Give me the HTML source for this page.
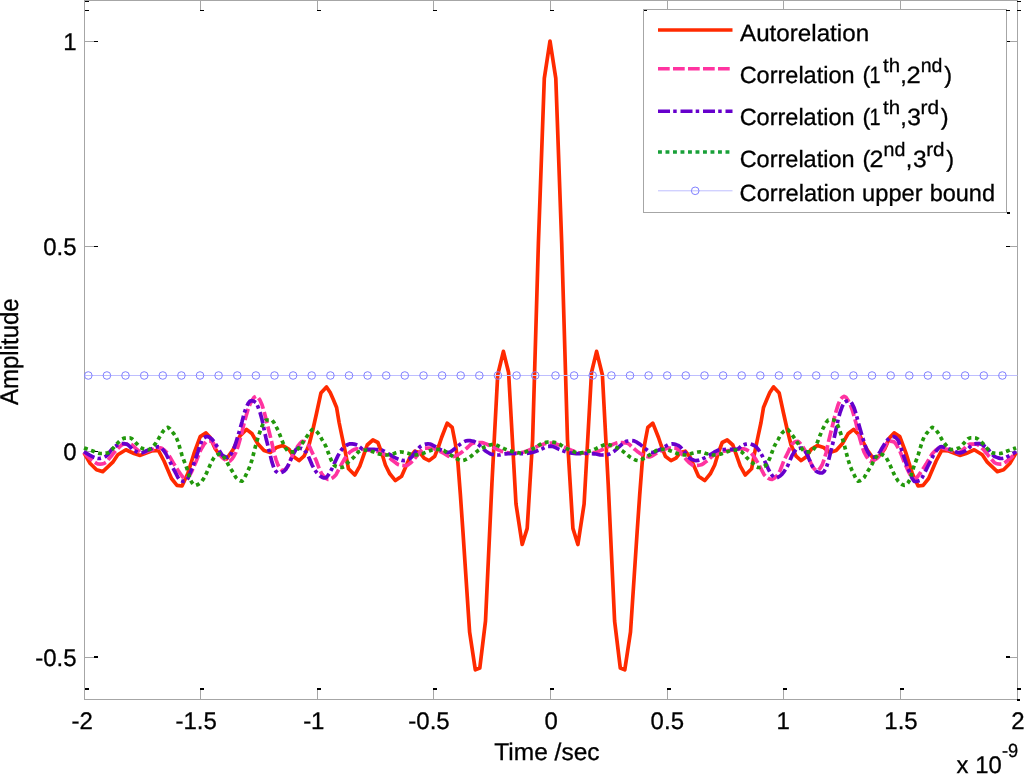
<!DOCTYPE html>
<html><head><meta charset="utf-8"><title>Correlation plot</title>
<style>html,body{margin:0;padding:0;background:#fff;overflow:hidden}body{width:1024px;height:774px;position:relative}</style></head>
<body>
<svg width="1024" height="774" viewBox="0 0 1024 774" style="display:block;position:absolute;left:0;top:0" font-family="'Liberation Sans', Arial, Helvetica, sans-serif" font-size="24" fill="#000">
<style>text{stroke:#000;stroke-width:0.3px;text-rendering:geometricPrecision}</style>
<rect width="1024" height="774" fill="#fff"/>
<g stroke="#a6a6a6" stroke-width="1" fill="none" shape-rendering="crispEdges">
<rect x="84.5" y="0.5" width="932.9" height="699.0"/>
<line x1="200.0" y1="699.5" x2="200.0" y2="689.5"/>
<line x1="200.0" y1="0.5" x2="200.0" y2="10.5"/>
<line x1="317.3" y1="699.5" x2="317.3" y2="689.5"/>
<line x1="317.3" y1="0.5" x2="317.3" y2="10.5"/>
<line x1="433.0" y1="699.5" x2="433.0" y2="689.5"/>
<line x1="433.0" y1="0.5" x2="433.0" y2="10.5"/>
<line x1="550.2" y1="699.5" x2="550.2" y2="689.5"/>
<line x1="550.2" y1="0.5" x2="550.2" y2="10.5"/>
<line x1="667.3" y1="699.5" x2="667.3" y2="689.5"/>
<line x1="667.3" y1="0.5" x2="667.3" y2="10.5"/>
<line x1="783.0" y1="699.5" x2="783.0" y2="689.5"/>
<line x1="783.0" y1="0.5" x2="783.0" y2="10.5"/>
<line x1="900.2" y1="699.5" x2="900.2" y2="689.5"/>
<line x1="900.2" y1="0.5" x2="900.2" y2="10.5"/>
<line x1="84.5" y1="41.3" x2="94.5" y2="41.3"/>
<line x1="1017.4" y1="41.3" x2="1007.4" y2="41.3"/>
<line x1="84.5" y1="246.5" x2="94.5" y2="246.5"/>
<line x1="1017.4" y1="246.5" x2="1007.4" y2="246.5"/>
<line x1="84.5" y1="451.7" x2="94.5" y2="451.7"/>
<line x1="1017.4" y1="451.7" x2="1007.4" y2="451.7"/>
<line x1="84.5" y1="657.1" x2="94.5" y2="657.1"/>
<line x1="1017.4" y1="657.1" x2="1007.4" y2="657.1"/>
</g>
<g fill="#000" shape-rendering="crispEdges">
<rect x="199.5" y="688.4" width="4" height="1.3"/>
<rect x="199.5" y="9.7" width="4" height="1.3"/>
<rect x="316.8" y="688.4" width="4" height="1.3"/>
<rect x="316.8" y="9.7" width="4" height="1.3"/>
<rect x="432.5" y="688.4" width="4" height="1.3"/>
<rect x="432.5" y="9.7" width="4" height="1.3"/>
<rect x="549.7" y="688.4" width="4" height="1.3"/>
<rect x="549.7" y="9.7" width="4" height="1.3"/>
<rect x="666.8" y="688.4" width="4" height="1.3"/>
<rect x="666.8" y="9.7" width="4" height="1.3"/>
<rect x="782.5" y="688.4" width="4" height="1.3"/>
<rect x="782.5" y="9.7" width="4" height="1.3"/>
<rect x="899.7" y="688.4" width="4" height="1.3"/>
<rect x="899.7" y="9.7" width="4" height="1.3"/>
<rect x="94.0" y="40.5" width="3.6" height="1.3"/>
<rect x="1006.4" y="40.5" width="3.6" height="1.3"/>
<rect x="94.0" y="245.7" width="3.6" height="1.3"/>
<rect x="1006.4" y="245.7" width="3.6" height="1.3"/>
<rect x="94.0" y="450.9" width="3.6" height="1.3"/>
<rect x="1006.4" y="450.9" width="3.6" height="1.3"/>
<rect x="94.0" y="656.3" width="3.6" height="1.3"/>
<rect x="1006.4" y="656.3" width="3.6" height="1.3"/>
<rect x="84.5" y="688.4" width="4" height="1.3"/>
<rect x="84.5" y="9.7" width="4" height="1.3"/>
<rect x="84.5" y="0.5" width="4" height="1.4"/>
<rect x="1016.9" y="688.4" width="4" height="1.3"/>
<rect x="1016.9" y="9.7" width="4" height="1.3"/>
<rect x="1016.9" y="0.5" width="4" height="1.4"/>
<rect x="1016.9" y="699.2" width="3.5" height="1.3"/>
</g>
<g fill="none" stroke-width="3.7" stroke-linejoin="round">
<path d="M84.0,452.9 L90.2,463.5 L96.5,469.8 L102.8,471.6 L112.8,462.2 L117.8,454.8 L125.9,449.8 L134.0,453.5 L140.2,455.4 L151.5,451.0 L158.4,450.4 L164.0,461.0 L171.5,478.5 L177.0,485.4 L182.0,486.0 L187.8,473.5 L194.0,453.5 L200.2,436.6 L206.0,432.9 L210.2,437.5 L215.2,448.8 L219.6,455.0 L226.5,458.8 L232.8,450.0 L240.2,435.6 L246.5,429.4 L252.1,433.8 L257.8,443.8 L264.0,450.6 L270.2,452.5 L276.5,447.5 L282.8,445.6 L289.0,449.4 L294.0,456.9 L299.0,460.6 L304.0,456.2 L309.0,445.0 L312.8,430.0 L316.5,413.5 L320.9,393.1 L326.5,386.9 L330.2,392.5 L333.5,400.0 L336.6,407.5 L339.1,422.5 L342.2,437.5 L345.4,452.5 L348.5,468.8 L354.8,475.0 L359.8,466.2 L364.1,453.8 L367.2,445.0 L372.9,440.0 L377.9,442.5 L381.6,452.5 L385.4,465.0 L389.8,473.8 L395.4,480.6 L401.6,476.2 L406.0,466.2 L409.8,457.5 L414.8,451.2 L419.8,452.5 L424.1,458.1 L429.1,460.6 L434.8,456.2 L439.1,445.0 L441.6,437.5 L447.2,423.1 L452.2,427.5 L455.4,443.8 L457.9,462.5 L460.4,495.0 L462.9,531.0 L469.6,632.0 L475.3,669.8 L479.8,668.0 L485.5,621.0 L491.9,484.0 L497.7,375.0 L503.4,351.4 L508.6,372.5 L516.0,504.0 L522.2,544.5 L527.2,528.4 L532.6,440.0 L538.4,243.0 L544.3,78.4 L550.0,41.0 L555.8,78.4 L561.7,243.0 L567.5,440.0 L572.9,528.4 L577.9,544.5 L584.1,504.0 L591.5,372.5 L596.6,351.4 L602.4,375.0 L608.2,484.0 L614.6,621.0 L620.3,668.0 L624.8,669.8 L630.5,632.0 L637.2,531.0 L639.7,495.0 L642.2,462.5 L644.7,443.8 L647.8,427.5 L652.8,423.1 L658.5,437.5 L661.0,445.0 L665.3,456.2 L671.0,460.6 L676.0,458.1 L680.3,452.5 L685.3,451.2 L690.3,457.5 L694.1,466.2 L698.5,476.2 L704.7,480.6 L710.3,473.8 L714.7,465.0 L718.5,452.5 L722.2,442.5 L727.2,440.0 L732.8,445.0 L736.0,453.8 L740.3,466.2 L745.3,475.0 L751.6,468.8 L754.7,452.5 L757.8,437.5 L761.0,422.5 L763.5,407.5 L766.6,400.0 L769.8,392.5 L773.6,386.9 L779.2,393.1 L783.6,413.5 L787.3,430.0 L791.1,445.0 L796.1,456.2 L801.1,460.6 L806.1,456.9 L811.1,449.4 L817.3,445.6 L823.6,447.5 L829.8,452.5 L836.1,450.6 L842.3,443.8 L848.0,433.8 L853.6,429.4 L859.8,435.6 L867.3,450.0 L873.6,458.8 L880.5,455.0 L884.8,448.8 L889.8,437.5 L894.1,432.9 L899.8,436.6 L906.1,453.5 L912.3,473.5 L918.1,486.0 L923.1,485.4 L928.6,478.5 L936.1,461.0 L941.7,450.4 L948.6,451.0 L959.8,455.4 L966.1,453.5 L974.2,449.8 L982.3,454.8 L987.3,462.2 L997.3,471.6 L1003.6,469.8 L1009.8,463.5 L1016.1,452.9" stroke="#ff2a00"/>
<path d="M84.0,452.2 L86.0,454.6 L88.0,456.7 L90.0,458.6 L92.0,460.1 L94.0,461.7 L96.0,463.1 L98.0,464.0 L100.0,464.1 L102.0,463.9 L104.0,463.5 L106.0,462.3 L108.0,460.0 L110.0,457.5 L112.0,455.2 L114.0,452.7 L116.0,450.3 L118.0,448.3 L120.0,446.4 L122.0,444.8 L124.0,444.1 L126.0,444.1 L128.0,444.1 L130.0,444.1 L132.0,444.8 L134.0,446.6 L136.0,448.7 L138.0,450.5 L140.0,452.3 L142.0,452.9 L144.0,452.5 L146.0,451.8 L148.0,451.0 L150.0,450.2 L152.0,449.6 L154.0,449.1 L156.0,448.5 L158.0,448.1 L160.0,447.9 L162.0,448.4 L164.0,449.9 L166.0,451.8 L168.0,454.0 L170.0,457.2 L172.0,460.7 L174.0,464.1 L176.0,467.2 L178.0,470.3 L180.0,473.2 L182.0,476.0 L184.0,478.5 L186.0,478.9 L188.0,477.2 L190.0,474.6 L192.0,470.8 L194.0,466.3 L196.0,461.8 L198.0,456.6 L200.0,451.5 L202.0,447.7 L204.0,444.3 L206.0,441.9 L208.0,441.4 L210.0,441.2 L212.0,441.4 L214.0,444.4 L216.0,448.6 L218.0,451.8 L220.0,454.9 L222.0,457.4 L224.0,459.0 L226.0,460.3 L228.0,461.1 L230.0,461.0 L232.0,459.0 L234.0,455.9 L236.0,452.2 L238.0,446.5 L240.0,439.6 L242.0,431.9 L244.0,423.5 L246.0,416.2 L248.0,409.5 L250.0,404.2 L252.0,400.5 L254.0,397.4 L256.0,396.3 L258.0,397.5 L260.0,400.2 L262.0,404.7 L264.0,411.2 L266.0,419.0 L268.0,427.2 L270.0,435.1 L272.0,443.5 L274.0,452.7 L276.0,459.6 L278.0,465.1 L280.0,468.3 L282.0,470.4 L284.0,470.3 L286.0,468.7 L288.0,466.1 L290.0,461.1 L292.0,456.5 L294.0,452.5 L296.0,448.8 L298.0,445.9 L300.0,443.3 L302.0,441.4 L304.0,441.5 L306.0,442.5 L308.0,444.0 L310.0,447.5 L312.0,452.2 L314.0,456.1 L316.0,460.0 L318.0,465.4 L320.0,470.5 L322.0,474.3 L324.0,476.7 L326.0,478.4 L328.0,479.4 L330.0,479.2 L332.0,478.2 L334.0,476.8 L336.0,474.7 L338.0,470.9 L340.0,467.1 L342.0,463.4 L344.0,459.9 L346.0,456.9 L348.0,454.2 L350.0,452.0 L352.0,450.7 L354.0,449.6 L356.0,448.9 L358.0,448.8 L360.0,449.0 L362.0,449.3 L364.0,449.7 L366.0,450.0 L368.0,450.2 L370.0,450.5 L372.0,450.7 L374.0,450.9 L376.0,451.2 L378.0,451.7 L380.0,452.3 L382.0,453.1 L384.0,454.0 L386.0,455.0 L388.0,456.4 L390.0,458.2 L392.0,460.1 L394.0,461.6 L396.0,463.1 L398.0,464.4 L400.0,465.0 L402.0,465.3 L404.0,465.5 L406.0,465.6 L408.0,464.9 L410.0,463.3 L412.0,461.5 L414.0,459.4 L416.0,456.8 L418.0,454.3 L420.0,452.0 L422.0,449.7 L424.0,448.2 L426.0,448.1 L428.0,448.1 L430.0,448.1 L432.0,448.2 L434.0,448.7 L436.0,449.5 L438.0,450.3 L440.0,451.3 L442.0,452.4 L444.0,453.5 L446.0,454.7 L448.0,456.0 L450.0,456.8 L452.0,456.8 L454.0,456.4 L456.0,455.6 L458.0,454.6 L460.0,453.5 L462.0,452.1 L464.0,450.4 L466.0,448.8 L468.0,447.0 L470.0,445.1 L472.0,443.6 L474.0,443.0 L476.0,442.8 L478.0,442.6 L480.0,442.5 L482.0,442.6 L484.0,443.1 L486.0,443.9 L488.0,444.8 L490.0,445.7 L492.0,446.7 L494.0,447.8 L496.0,448.8 L498.0,449.7 L500.0,450.6 L502.0,451.5 L504.0,452.0 L506.0,452.5 L508.0,452.8 L510.0,453.1 L512.0,453.1 L514.0,453.1 L516.0,453.1 L518.0,453.1 L520.0,453.0 L522.0,452.5 L524.0,451.9 L526.0,451.2 L528.0,450.5 L530.0,449.7 L532.0,448.8 L534.0,447.9 L536.0,447.0 L538.0,446.1 L540.0,445.3 L542.0,444.7 L544.0,444.1 L546.0,443.5 L548.0,443.2 L550.0,443.0 L550.0,443.0 L550.1,443.0 L552.1,443.2 L554.1,443.5 L556.1,444.1 L558.1,444.7 L560.1,445.3 L562.1,446.1 L564.1,447.0 L566.1,447.9 L568.1,448.8 L570.1,449.7 L572.1,450.5 L574.1,451.2 L576.1,451.9 L578.1,452.5 L580.1,453.0 L582.1,453.1 L584.1,453.1 L586.1,453.1 L588.1,453.1 L590.1,453.1 L592.1,452.8 L594.1,452.5 L596.1,452.0 L598.1,451.5 L600.1,450.6 L602.1,449.7 L604.1,448.8 L606.1,447.8 L608.1,446.7 L610.1,445.7 L612.1,444.8 L614.1,443.9 L616.1,443.1 L618.1,442.6 L620.1,442.5 L622.1,442.6 L624.1,442.8 L626.1,443.0 L628.1,443.6 L630.1,445.1 L632.1,447.0 L634.1,448.8 L636.1,450.4 L638.1,452.1 L640.1,453.5 L642.1,454.6 L644.1,455.6 L646.1,456.4 L648.1,456.8 L650.1,456.8 L652.1,456.0 L654.1,454.7 L656.1,453.5 L658.1,452.4 L660.1,451.3 L662.1,450.3 L664.1,449.5 L666.1,448.7 L668.1,448.2 L670.1,448.1 L672.1,448.1 L674.1,448.1 L676.1,448.2 L678.1,449.7 L680.1,452.0 L682.1,454.3 L684.1,456.8 L686.1,459.4 L688.1,461.5 L690.1,463.3 L692.1,464.9 L694.1,465.6 L696.1,465.5 L698.1,465.3 L700.1,465.0 L702.1,464.4 L704.1,463.1 L706.1,461.6 L708.1,460.1 L710.1,458.2 L712.1,456.4 L714.1,455.0 L716.1,454.0 L718.1,453.1 L720.1,452.3 L722.1,451.7 L724.1,451.2 L726.1,450.9 L728.1,450.7 L730.1,450.5 L732.1,450.2 L734.1,450.0 L736.1,449.7 L738.1,449.3 L740.1,449.0 L742.1,448.8 L744.1,448.9 L746.1,449.6 L748.1,450.7 L750.1,452.0 L752.1,454.2 L754.1,456.9 L756.1,459.9 L758.1,463.4 L760.1,467.1 L762.1,470.9 L764.1,474.7 L766.1,476.8 L768.1,478.2 L770.1,479.2 L772.1,479.4 L774.1,478.4 L776.1,476.7 L778.1,474.3 L780.1,470.5 L782.1,465.4 L784.1,460.0 L786.1,456.1 L788.1,452.2 L790.1,447.5 L792.1,444.0 L794.1,442.5 L796.1,441.5 L798.1,441.4 L800.1,443.3 L802.1,445.9 L804.1,448.8 L806.1,452.5 L808.1,456.5 L810.1,461.1 L812.1,466.1 L814.1,468.7 L816.1,470.3 L818.1,470.4 L820.1,468.3 L822.1,465.1 L824.1,459.6 L826.1,452.7 L828.1,443.5 L830.1,435.1 L832.1,427.2 L834.1,419.0 L836.1,411.2 L838.1,404.7 L840.1,400.2 L842.1,397.5 L844.1,396.3 L846.1,397.4 L848.1,400.5 L850.1,404.2 L852.1,409.5 L854.1,416.2 L856.1,423.5 L858.1,431.9 L860.1,439.6 L862.1,446.5 L864.1,452.2 L866.1,455.9 L868.1,459.0 L870.1,461.0 L872.1,461.1 L874.1,460.3 L876.1,459.0 L878.1,457.4 L880.1,454.9 L882.1,451.8 L884.1,448.6 L886.1,444.4 L888.1,441.4 L890.1,441.2 L892.1,441.4 L894.1,441.9 L896.1,444.3 L898.1,447.7 L900.1,451.5 L902.1,456.6 L904.1,461.8 L906.1,466.3 L908.1,470.8 L910.1,474.6 L912.1,477.2 L914.1,478.9 L916.1,478.5 L918.1,476.0 L920.1,473.2 L922.1,470.3 L924.1,467.2 L926.1,464.1 L928.1,460.7 L930.1,457.2 L932.1,454.0 L934.1,451.8 L936.1,449.9 L938.1,448.4 L940.1,447.9 L942.1,448.1 L944.1,448.5 L946.1,449.1 L948.1,449.6 L950.1,450.2 L952.1,451.0 L954.1,451.8 L956.1,452.5 L958.1,452.9 L960.1,452.3 L962.1,450.5 L964.1,448.7 L966.1,446.6 L968.1,444.8 L970.1,444.1 L972.1,444.1 L974.1,444.1 L976.1,444.1 L978.1,444.8 L980.1,446.4 L982.1,448.3 L984.1,450.3 L986.1,452.7 L988.1,455.2 L990.1,457.5 L992.1,460.0 L994.1,462.3 L996.1,463.5 L998.1,463.9 L1000.1,464.1 L1002.1,464.0 L1004.1,463.1 L1006.1,461.7 L1008.1,460.1 L1010.1,458.6 L1012.1,456.7 L1014.1,454.6 L1016.1,452.2" stroke="#ff33a0" stroke-dasharray="11.7 3.3"/>
<path d="M84.0,451.6 L86.0,453.0 L88.0,454.2 L90.0,455.3 L92.0,456.3 L94.0,457.3 L96.0,458.1 L98.0,458.5 L100.0,458.4 L102.0,457.9 L104.0,457.1 L106.0,456.2 L108.0,454.3 L110.0,451.7 L112.0,449.1 L114.0,447.2 L116.0,445.9 L118.0,444.6 L120.0,443.7 L122.0,443.5 L124.0,443.7 L126.0,444.0 L128.0,444.8 L130.0,446.7 L132.0,448.8 L134.0,450.4 L136.0,451.5 L138.0,452.4 L140.0,452.9 L142.0,452.7 L144.0,452.0 L146.0,451.0 L148.0,450.1 L150.0,449.4 L152.0,448.6 L154.0,447.8 L156.0,447.1 L158.0,446.7 L160.0,446.9 L162.0,448.6 L164.0,451.0 L166.0,454.0 L168.0,457.8 L170.0,461.8 L172.0,465.8 L174.0,469.9 L176.0,473.7 L178.0,477.6 L180.0,480.3 L182.0,481.0 L184.0,481.5 L186.0,481.3 L188.0,478.3 L190.0,473.4 L192.0,468.6 L194.0,463.2 L196.0,457.3 L198.0,451.6 L200.0,445.4 L202.0,440.2 L204.0,437.9 L206.0,436.6 L208.0,436.6 L210.0,437.7 L212.0,439.3 L214.0,441.6 L216.0,444.7 L218.0,447.9 L220.0,451.6 L222.0,454.9 L224.0,456.3 L226.0,457.2 L228.0,457.5 L230.0,455.8 L232.0,452.6 L234.0,448.4 L236.0,442.3 L238.0,435.9 L240.0,429.0 L242.0,421.9 L244.0,414.0 L246.0,407.9 L248.0,403.7 L250.0,401.0 L252.0,400.7 L254.0,401.3 L256.0,402.6 L258.0,406.8 L260.0,412.3 L262.0,419.6 L264.0,429.0 L266.0,438.2 L268.0,446.1 L270.0,454.2 L272.0,462.2 L274.0,468.2 L276.0,471.4 L278.0,472.9 L280.0,473.0 L282.0,472.3 L284.0,471.2 L286.0,469.1 L288.0,465.6 L290.0,461.6 L292.0,456.7 L294.0,452.7 L296.0,449.4 L298.0,448.1 L300.0,448.2 L302.0,448.6 L304.0,449.5 L306.0,452.1 L308.0,455.4 L310.0,460.0 L312.0,464.8 L314.0,468.5 L316.0,471.6 L318.0,474.1 L320.0,476.0 L322.0,477.2 L324.0,478.0 L326.0,477.7 L328.0,475.4 L330.0,472.4 L332.0,468.6 L334.0,464.1 L336.0,459.9 L338.0,455.6 L340.0,452.1 L342.0,449.1 L344.0,446.8 L346.0,445.5 L348.0,444.5 L350.0,443.8 L352.0,443.8 L354.0,444.1 L356.0,444.6 L358.0,445.4 L360.0,447.1 L362.0,448.8 L364.0,449.4 L366.0,449.4 L368.0,449.4 L370.0,449.4 L372.0,449.4 L374.0,449.4 L376.0,449.5 L378.0,449.7 L380.0,449.9 L382.0,450.2 L384.0,451.1 L386.0,452.2 L388.0,453.5 L390.0,454.6 L392.0,455.9 L394.0,457.1 L396.0,458.1 L398.0,459.0 L400.0,459.8 L402.0,460.4 L404.0,460.6 L406.0,460.2 L408.0,459.5 L410.0,458.6 L412.0,456.7 L414.0,453.9 L416.0,451.2 L418.0,448.9 L420.0,446.7 L422.0,445.4 L424.0,444.6 L426.0,444.1 L428.0,443.8 L430.0,444.0 L432.0,444.8 L434.0,445.9 L436.0,446.9 L438.0,448.2 L440.0,449.5 L442.0,450.4 L444.0,451.3 L446.0,452.1 L448.0,452.5 L450.0,452.1 L452.0,450.9 L454.0,449.3 L456.0,447.8 L458.0,446.1 L460.0,444.4 L462.0,443.1 L464.0,441.8 L466.0,440.8 L468.0,440.6 L470.0,440.7 L472.0,441.0 L474.0,441.4 L476.0,442.5 L478.0,444.1 L480.0,445.8 L482.0,447.7 L484.0,449.6 L486.0,451.2 L488.0,452.5 L490.0,453.7 L492.0,454.4 L494.0,454.7 L496.0,454.9 L498.0,455.0 L500.0,454.9 L502.0,454.5 L504.0,454.0 L506.0,453.8 L508.0,453.6 L510.0,453.6 L512.0,453.5 L514.0,453.5 L516.0,453.6 L518.0,453.7 L520.0,453.7 L522.0,453.7 L524.0,453.6 L526.0,453.4 L528.0,453.2 L530.0,452.9 L532.0,452.4 L534.0,451.9 L536.0,451.2 L538.0,450.5 L540.0,449.7 L542.0,448.9 L544.0,447.9 L546.0,446.9 L548.0,446.3 L550.0,446.2 L550.0,446.2 L550.1,446.2 L552.1,446.3 L554.1,446.9 L556.1,447.9 L558.1,448.9 L560.1,449.7 L562.1,450.5 L564.1,451.2 L566.1,451.9 L568.1,452.4 L570.1,452.9 L572.1,453.2 L574.1,453.4 L576.1,453.6 L578.1,453.7 L580.1,453.7 L582.1,453.7 L584.1,453.6 L586.1,453.5 L588.1,453.5 L590.1,453.6 L592.1,453.6 L594.1,453.8 L596.1,454.0 L598.1,454.5 L600.1,454.9 L602.1,455.0 L604.1,454.9 L606.1,454.7 L608.1,454.4 L610.1,453.7 L612.1,452.5 L614.1,451.2 L616.1,449.6 L618.1,447.7 L620.1,445.8 L622.1,444.1 L624.1,442.5 L626.1,441.4 L628.1,441.0 L630.1,440.7 L632.1,440.6 L634.1,440.8 L636.1,441.8 L638.1,443.1 L640.1,444.4 L642.1,446.1 L644.1,447.8 L646.1,449.3 L648.1,450.9 L650.1,452.1 L652.1,452.5 L654.1,452.1 L656.1,451.3 L658.1,450.4 L660.1,449.5 L662.1,448.2 L664.1,446.9 L666.1,445.9 L668.1,444.8 L670.1,444.0 L672.1,443.8 L674.1,444.1 L676.1,444.6 L678.1,445.4 L680.1,446.7 L682.1,448.9 L684.1,451.2 L686.1,453.9 L688.1,456.7 L690.1,458.6 L692.1,459.5 L694.1,460.2 L696.1,460.6 L698.1,460.4 L700.1,459.8 L702.1,459.0 L704.1,458.1 L706.1,457.1 L708.1,455.9 L710.1,454.6 L712.1,453.5 L714.1,452.2 L716.1,451.1 L718.1,450.2 L720.1,449.9 L722.1,449.7 L724.1,449.5 L726.1,449.4 L728.1,449.4 L730.1,449.4 L732.1,449.4 L734.1,449.4 L736.1,449.4 L738.1,448.8 L740.1,447.1 L742.1,445.4 L744.1,444.6 L746.1,444.1 L748.1,443.8 L750.1,443.8 L752.1,444.5 L754.1,445.5 L756.1,446.8 L758.1,449.1 L760.1,452.1 L762.1,455.6 L764.1,459.9 L766.1,464.1 L768.1,468.6 L770.1,472.4 L772.1,475.4 L774.1,477.7 L776.1,478.0 L778.1,477.2 L780.1,476.0 L782.1,474.1 L784.1,471.6 L786.1,468.5 L788.1,464.8 L790.1,460.0 L792.1,455.4 L794.1,452.1 L796.1,449.5 L798.1,448.6 L800.1,448.2 L802.1,448.1 L804.1,449.4 L806.1,452.7 L808.1,456.7 L810.1,461.6 L812.1,465.6 L814.1,469.1 L816.1,471.2 L818.1,472.3 L820.1,473.0 L822.1,472.9 L824.1,471.4 L826.1,468.2 L828.1,462.2 L830.1,454.2 L832.1,446.1 L834.1,438.2 L836.1,429.0 L838.1,419.6 L840.1,412.3 L842.1,406.8 L844.1,402.6 L846.1,401.3 L848.1,400.7 L850.1,401.0 L852.1,403.7 L854.1,407.9 L856.1,414.0 L858.1,421.9 L860.1,429.0 L862.1,435.9 L864.1,442.3 L866.1,448.4 L868.1,452.6 L870.1,455.8 L872.1,457.5 L874.1,457.2 L876.1,456.3 L878.1,454.9 L880.1,451.6 L882.1,447.9 L884.1,444.7 L886.1,441.6 L888.1,439.3 L890.1,437.7 L892.1,436.6 L894.1,436.6 L896.1,437.9 L898.1,440.2 L900.1,445.4 L902.1,451.6 L904.1,457.3 L906.1,463.2 L908.1,468.6 L910.1,473.4 L912.1,478.3 L914.1,481.3 L916.1,481.5 L918.1,481.0 L920.1,480.3 L922.1,477.6 L924.1,473.7 L926.1,469.9 L928.1,465.8 L930.1,461.8 L932.1,457.8 L934.1,454.0 L936.1,451.0 L938.1,448.6 L940.1,446.9 L942.1,446.7 L944.1,447.1 L946.1,447.8 L948.1,448.6 L950.1,449.4 L952.1,450.1 L954.1,451.0 L956.1,452.0 L958.1,452.7 L960.1,452.9 L962.1,452.4 L964.1,451.5 L966.1,450.4 L968.1,448.8 L970.1,446.7 L972.1,444.8 L974.1,444.0 L976.1,443.7 L978.1,443.5 L980.1,443.7 L982.1,444.6 L984.1,445.9 L986.1,447.2 L988.1,449.1 L990.1,451.7 L992.1,454.3 L994.1,456.2 L996.1,457.1 L998.1,457.9 L1000.1,458.4 L1002.1,458.5 L1004.1,458.1 L1006.1,457.3 L1008.1,456.3 L1010.1,455.3 L1012.1,454.2 L1014.1,453.0 L1016.1,451.6" stroke="#6600cc" stroke-dasharray="12 3.2 3.5 3.8"/>
<path d="M84.0,447.9 L86.0,448.6 L88.0,449.3 L90.0,450.0 L92.0,450.7 L94.0,451.5 L96.0,452.4 L98.0,453.1 L100.0,453.5 L102.0,453.5 L104.0,453.3 L106.0,453.1 L108.0,452.9 L110.0,451.7 L112.0,449.7 L114.0,447.2 L116.0,444.7 L118.0,442.7 L120.0,440.8 L122.0,439.1 L124.0,438.2 L126.0,438.1 L128.0,437.9 L130.0,437.9 L132.0,438.7 L134.0,440.7 L136.0,442.9 L138.0,445.1 L140.0,447.3 L142.0,448.3 L144.0,449.0 L146.0,449.5 L148.0,449.7 L150.0,449.2 L152.0,447.4 L154.0,445.4 L156.0,442.8 L158.0,439.7 L160.0,436.3 L162.0,432.9 L164.0,430.2 L166.0,428.0 L168.0,427.3 L170.0,429.0 L172.0,431.6 L174.0,434.0 L176.0,437.0 L178.0,441.7 L180.0,448.5 L182.0,455.3 L184.0,460.7 L186.0,466.0 L188.0,471.6 L190.0,479.2 L192.0,482.7 L194.0,485.0 L196.0,485.3 L198.0,484.5 L200.0,483.1 L202.0,481.1 L204.0,478.0 L206.0,474.2 L208.0,469.7 L210.0,465.2 L212.0,461.1 L214.0,457.6 L216.0,455.7 L218.0,454.4 L220.0,453.8 L222.0,454.7 L224.0,457.2 L226.0,460.2 L228.0,464.1 L230.0,467.7 L232.0,470.8 L234.0,474.2 L236.0,477.6 L238.0,479.4 L240.0,480.7 L242.0,481.2 L244.0,479.0 L246.0,474.8 L248.0,470.7 L250.0,465.9 L252.0,459.8 L254.0,452.0 L256.0,444.2 L258.0,437.5 L260.0,431.6 L262.0,426.2 L264.0,422.0 L266.0,420.0 L268.0,420.0 L270.0,420.0 L272.0,420.1 L274.0,422.7 L276.0,426.4 L278.0,430.3 L280.0,435.2 L282.0,440.6 L284.0,445.2 L286.0,448.7 L288.0,451.4 L290.0,451.9 L292.0,451.9 L294.0,451.9 L296.0,451.3 L298.0,449.0 L300.0,446.4 L302.0,443.6 L304.0,440.6 L306.0,437.7 L308.0,434.9 L310.0,432.1 L312.0,429.7 L314.0,429.7 L316.0,431.0 L318.0,433.0 L320.0,435.8 L322.0,439.6 L324.0,442.9 L326.0,446.6 L328.0,452.0 L330.0,457.5 L332.0,461.8 L334.0,465.1 L336.0,466.4 L338.0,467.0 L340.0,467.4 L342.0,467.5 L344.0,466.7 L346.0,464.6 L348.0,462.4 L350.0,460.7 L352.0,458.9 L354.0,457.0 L356.0,454.4 L358.0,452.2 L360.0,451.2 L362.0,450.4 L364.0,450.0 L366.0,450.1 L368.0,450.4 L370.0,450.8 L372.0,451.4 L374.0,452.1 L376.0,452.9 L378.0,453.6 L380.0,454.1 L382.0,454.5 L384.0,454.9 L386.0,455.0 L388.0,454.8 L390.0,454.4 L392.0,454.0 L394.0,453.5 L396.0,452.8 L398.0,452.2 L400.0,451.9 L402.0,452.0 L404.0,452.4 L406.0,452.8 L408.0,453.3 L410.0,454.0 L412.0,454.7 L414.0,455.0 L416.0,454.9 L418.0,454.6 L420.0,454.1 L422.0,453.7 L424.0,453.0 L426.0,452.2 L428.0,451.4 L430.0,450.7 L432.0,450.0 L434.0,449.5 L436.0,449.4 L438.0,449.5 L440.0,449.7 L442.0,450.0 L444.0,450.6 L446.0,452.0 L448.0,453.4 L450.0,454.7 L452.0,455.9 L454.0,457.1 L456.0,458.2 L458.0,459.4 L460.0,460.3 L462.0,460.6 L464.0,460.2 L466.0,459.4 L468.0,458.4 L470.0,457.2 L472.0,455.5 L474.0,453.8 L476.0,452.2 L478.0,450.6 L480.0,449.3 L482.0,448.2 L484.0,447.3 L486.0,446.5 L488.0,445.8 L490.0,445.0 L492.0,444.5 L494.0,444.4 L496.0,444.9 L498.0,445.8 L500.0,446.7 L502.0,447.6 L504.0,448.6 L506.0,449.5 L508.0,450.3 L510.0,450.9 L512.0,451.4 L514.0,451.9 L516.0,452.3 L518.0,452.7 L520.0,453.0 L522.0,453.1 L524.0,452.6 L526.0,451.8 L528.0,450.8 L530.0,450.0 L532.0,449.1 L534.0,448.2 L536.0,447.2 L538.0,445.9 L540.0,444.5 L542.0,443.6 L544.0,442.9 L546.0,442.3 L548.0,442.0 L550.0,441.8 L550.0,441.8 L550.1,441.8 L552.1,442.0 L554.1,442.3 L556.1,442.9 L558.1,443.6 L560.1,444.5 L562.1,445.9 L564.1,447.2 L566.1,448.2 L568.1,449.1 L570.1,450.0 L572.1,450.8 L574.1,451.8 L576.1,452.6 L578.1,453.1 L580.1,453.0 L582.1,452.7 L584.1,452.3 L586.1,451.9 L588.1,451.4 L590.1,450.9 L592.1,450.3 L594.1,449.5 L596.1,448.6 L598.1,447.6 L600.1,446.7 L602.1,445.8 L604.1,444.9 L606.1,444.4 L608.1,444.5 L610.1,445.0 L612.1,445.8 L614.1,446.5 L616.1,447.3 L618.1,448.2 L620.1,449.3 L622.1,450.6 L624.1,452.2 L626.1,453.8 L628.1,455.5 L630.1,457.2 L632.1,458.4 L634.1,459.4 L636.1,460.2 L638.1,460.6 L640.1,460.3 L642.1,459.4 L644.1,458.2 L646.1,457.1 L648.1,455.9 L650.1,454.7 L652.1,453.4 L654.1,452.0 L656.1,450.6 L658.1,450.0 L660.1,449.7 L662.1,449.5 L664.1,449.4 L666.1,449.5 L668.1,450.0 L670.1,450.7 L672.1,451.4 L674.1,452.2 L676.1,453.0 L678.1,453.7 L680.1,454.1 L682.1,454.6 L684.1,454.9 L686.1,455.0 L688.1,454.7 L690.1,454.0 L692.1,453.3 L694.1,452.8 L696.1,452.4 L698.1,452.0 L700.1,451.9 L702.1,452.2 L704.1,452.8 L706.1,453.5 L708.1,454.0 L710.1,454.4 L712.1,454.8 L714.1,455.0 L716.1,454.9 L718.1,454.5 L720.1,454.1 L722.1,453.6 L724.1,452.9 L726.1,452.1 L728.1,451.4 L730.1,450.8 L732.1,450.4 L734.1,450.1 L736.1,450.0 L738.1,450.4 L740.1,451.2 L742.1,452.2 L744.1,454.4 L746.1,457.0 L748.1,458.9 L750.1,460.7 L752.1,462.4 L754.1,464.6 L756.1,466.7 L758.1,467.5 L760.1,467.4 L762.1,467.0 L764.1,466.4 L766.1,465.1 L768.1,461.8 L770.1,457.5 L772.1,452.0 L774.1,446.6 L776.1,442.9 L778.1,439.6 L780.1,435.8 L782.1,433.0 L784.1,431.0 L786.1,429.7 L788.1,429.7 L790.1,432.1 L792.1,434.9 L794.1,437.7 L796.1,440.6 L798.1,443.6 L800.1,446.4 L802.1,449.0 L804.1,451.3 L806.1,451.9 L808.1,451.9 L810.1,451.9 L812.1,451.4 L814.1,448.7 L816.1,445.2 L818.1,440.6 L820.1,435.2 L822.1,430.3 L824.1,426.4 L826.1,422.7 L828.1,420.1 L830.1,420.0 L832.1,420.0 L834.1,420.0 L836.1,422.0 L838.1,426.2 L840.1,431.6 L842.1,437.5 L844.1,444.2 L846.1,452.0 L848.1,459.8 L850.1,465.9 L852.1,470.7 L854.1,474.8 L856.1,479.0 L858.1,481.2 L860.1,480.7 L862.1,479.4 L864.1,477.6 L866.1,474.2 L868.1,470.8 L870.1,467.7 L872.1,464.1 L874.1,460.2 L876.1,457.2 L878.1,454.7 L880.1,453.8 L882.1,454.4 L884.1,455.7 L886.1,457.6 L888.1,461.1 L890.1,465.2 L892.1,469.7 L894.1,474.2 L896.1,478.0 L898.1,481.1 L900.1,483.1 L902.1,484.5 L904.1,485.3 L906.1,485.0 L908.1,482.7 L910.1,479.2 L912.1,471.6 L914.1,466.0 L916.1,460.7 L918.1,455.3 L920.1,448.5 L922.1,441.7 L924.1,437.0 L926.1,434.0 L928.1,431.6 L930.1,429.0 L932.1,427.3 L934.1,428.0 L936.1,430.2 L938.1,432.9 L940.1,436.3 L942.1,439.7 L944.1,442.8 L946.1,445.4 L948.1,447.4 L950.1,449.2 L952.1,449.7 L954.1,449.5 L956.1,449.0 L958.1,448.3 L960.1,447.3 L962.1,445.1 L964.1,442.9 L966.1,440.7 L968.1,438.7 L970.1,437.9 L972.1,437.9 L974.1,438.1 L976.1,438.2 L978.1,439.1 L980.1,440.8 L982.1,442.7 L984.1,444.7 L986.1,447.2 L988.1,449.7 L990.1,451.7 L992.1,452.9 L994.1,453.1 L996.1,453.3 L998.1,453.5 L1000.1,453.5 L1002.1,453.1 L1004.1,452.4 L1006.1,451.5 L1008.1,450.7 L1010.1,450.0 L1012.1,449.3 L1014.1,448.6 L1016.1,447.9" stroke="#22980c" stroke-dasharray="3.9 3.6"/>
</g>
<line x1="84.5" y1="375.5" x2="1017.4" y2="375.5" stroke="#bebeff" stroke-width="1" fill="none"/>
<g stroke="#8080ff" stroke-width="1" fill="none">
<circle cx="88.3" cy="375.5" r="3.8"/><circle cx="106.9" cy="375.5" r="3.8"/><circle cx="125.5" cy="375.5" r="3.8"/><circle cx="144.2" cy="375.5" r="3.8"/><circle cx="162.8" cy="375.5" r="3.8"/><circle cx="181.4" cy="375.5" r="3.8"/><circle cx="200.0" cy="375.5" r="3.8"/><circle cx="218.6" cy="375.5" r="3.8"/><circle cx="237.3" cy="375.5" r="3.8"/><circle cx="255.9" cy="375.5" r="3.8"/><circle cx="274.5" cy="375.5" r="3.8"/><circle cx="293.1" cy="375.5" r="3.8"/><circle cx="311.7" cy="375.5" r="3.8"/><circle cx="330.4" cy="375.5" r="3.8"/><circle cx="349.0" cy="375.5" r="3.8"/><circle cx="367.6" cy="375.5" r="3.8"/><circle cx="386.2" cy="375.5" r="3.8"/><circle cx="404.8" cy="375.5" r="3.8"/><circle cx="423.5" cy="375.5" r="3.8"/><circle cx="442.1" cy="375.5" r="3.8"/><circle cx="460.7" cy="375.5" r="3.8"/><circle cx="479.3" cy="375.5" r="3.8"/><circle cx="497.9" cy="375.5" r="3.8"/><circle cx="516.6" cy="375.5" r="3.8"/><circle cx="535.2" cy="375.5" r="3.8"/><circle cx="555.5" cy="375.5" r="3.8"/><circle cx="574.1" cy="375.5" r="3.8"/><circle cx="592.7" cy="375.5" r="3.8"/><circle cx="611.4" cy="375.5" r="3.8"/><circle cx="630.0" cy="375.5" r="3.8"/><circle cx="648.6" cy="375.5" r="3.8"/><circle cx="667.2" cy="375.5" r="3.8"/><circle cx="685.8" cy="375.5" r="3.8"/><circle cx="704.5" cy="375.5" r="3.8"/><circle cx="723.1" cy="375.5" r="3.8"/><circle cx="741.7" cy="375.5" r="3.8"/><circle cx="760.3" cy="375.5" r="3.8"/><circle cx="778.9" cy="375.5" r="3.8"/><circle cx="797.6" cy="375.5" r="3.8"/><circle cx="816.2" cy="375.5" r="3.8"/><circle cx="834.8" cy="375.5" r="3.8"/><circle cx="853.4" cy="375.5" r="3.8"/><circle cx="872.0" cy="375.5" r="3.8"/><circle cx="890.7" cy="375.5" r="3.8"/><circle cx="909.3" cy="375.5" r="3.8"/><circle cx="927.9" cy="375.5" r="3.8"/><circle cx="946.5" cy="375.5" r="3.8"/><circle cx="965.1" cy="375.5" r="3.8"/><circle cx="983.8" cy="375.5" r="3.8"/><circle cx="1002.4" cy="375.5" r="3.8"/>
</g>
<rect x="643.5" y="9.5" width="363.0" height="203.0" fill="#fff" stroke="#a6a6a6" stroke-width="1" shape-rendering="crispEdges"/>
<g fill="#000" shape-rendering="crispEdges">
<rect x="643.5" y="9.7" width="3.5" height="1.5"/>
<rect x="1006.1" y="9.7" width="3.5" height="1.5"/>
<rect x="1006.5" y="212.2" width="3.5" height="1.3"/>
</g>
<g fill="none" stroke-width="3.5">
<line x1="658.0" y1="29.9" x2="732.5" y2="29.9" stroke="#ff2a00"/>
<line x1="658.0" y1="68.8" x2="732.5" y2="68.8" stroke="#ff33a0" stroke-dasharray="11.7 3.3"/>
<line x1="658.0" y1="111.2" x2="732.5" y2="111.2" stroke="#6600cc" stroke-dasharray="12 3.2 3.5 3.8"/>
<line x1="658.0" y1="152.1" x2="732.5" y2="152.1" stroke="#18a038" stroke-dasharray="3.9 3.6"/>
</g>
<line x1="658.0" y1="190.8" x2="732.5" y2="190.8" stroke="#bebeff" stroke-width="1"/><circle cx="695.2" cy="190.8" r="3.8" fill="none" stroke="#8080ff" stroke-width="1"/>
<text x="740.00" y="40.60" font-size="23.5" textLength="129.11" lengthAdjust="spacingAndGlyphs">Autorelation</text>
<text x="739.63" y="83.40" font-size="23.5" textLength="114.94" lengthAdjust="spacingAndGlyphs">Correlation</text>
<text x="862.38" y="83.40" font-size="23.5">(</text>
<text x="869.51" y="83.40" font-size="23.5" textLength="11.04" lengthAdjust="spacingAndGlyphs">1</text>
<text x="883.14" y="72.40" font-size="19.5" textLength="17.05" lengthAdjust="spacingAndGlyphs">th</text>
<text x="900.14" y="83.40" font-size="23.5">,</text>
<text x="906.52" y="83.40" font-size="23.5" textLength="14.20" lengthAdjust="spacingAndGlyphs">2</text>
<text x="920.68" y="72.40" font-size="19.5" textLength="21.72" lengthAdjust="spacingAndGlyphs">nd</text>
<text x="944.30" y="83.40" font-size="23.5">)</text>
<text x="739.63" y="125.30" font-size="23.5" textLength="114.94" lengthAdjust="spacingAndGlyphs">Correlation</text>
<text x="862.38" y="125.30" font-size="23.5">(</text>
<text x="869.51" y="125.30" font-size="23.5" textLength="11.04" lengthAdjust="spacingAndGlyphs">1</text>
<text x="883.14" y="114.30" font-size="19.5" textLength="17.05" lengthAdjust="spacingAndGlyphs">th</text>
<text x="900.14" y="125.30" font-size="23.5">,</text>
<text x="907.38" y="125.30" font-size="23.5" textLength="13.70" lengthAdjust="spacingAndGlyphs">3</text>
<text x="920.60" y="114.30" font-size="19.5" textLength="18.54" lengthAdjust="spacingAndGlyphs">rd</text>
<text x="940.70" y="125.30" font-size="23.5">)</text>
<text x="739.63" y="166.60" font-size="23.5" textLength="114.94" lengthAdjust="spacingAndGlyphs">Correlation</text>
<text x="862.38" y="166.60" font-size="23.5">(</text>
<text x="869.55" y="166.60" font-size="23.5" textLength="13.96" lengthAdjust="spacingAndGlyphs">2</text>
<text x="883.57" y="155.60" font-size="19.5" textLength="21.83" lengthAdjust="spacingAndGlyphs">nd</text>
<text x="905.74" y="166.60" font-size="23.5">,</text>
<text x="912.98" y="166.60" font-size="23.5" textLength="13.70" lengthAdjust="spacingAndGlyphs">3</text>
<text x="926.21" y="155.60" font-size="19.5" textLength="18.37" lengthAdjust="spacingAndGlyphs">rd</text>
<text x="946.15" y="166.60" font-size="23.5">)</text>
<text x="739.62" y="201.20" font-size="23.5" textLength="115.55" lengthAdjust="spacingAndGlyphs">Correlation</text>
<text x="862.12" y="201.20" font-size="23.5" textLength="60.46" lengthAdjust="spacingAndGlyphs">upper</text>
<text x="929.63" y="201.20" font-size="23.5" textLength="65.38" lengthAdjust="spacingAndGlyphs">bound</text>
<text x="82.1" y="729.3" text-anchor="middle">-2</text>
<text x="196.2" y="729.3" text-anchor="middle">-1.5</text>
<text x="313.8" y="729.3" text-anchor="middle">-1</text>
<text x="429.0" y="729.3" text-anchor="middle">-0.5</text>
<text x="551.3" y="729.3" text-anchor="middle">0</text>
<text x="667.3" y="729.3" text-anchor="middle">0.5</text>
<text x="783.2" y="729.3" text-anchor="middle">1</text>
<text x="901.0" y="729.3" text-anchor="middle">1.5</text>
<text x="1018.0" y="729.3" text-anchor="middle">2</text>
<text x="76.5" y="49.7" text-anchor="end">1</text>
<text x="76.5" y="254.9" text-anchor="end">0.5</text>
<text x="76.5" y="460.1" text-anchor="end">0</text>
<text x="76.5" y="665.5" text-anchor="end">-0.5</text>
<text x="494.29" y="759.50" font-size="24.0" textLength="105.25" lengthAdjust="spacingAndGlyphs">Time /sec</text>
<text transform="translate(18.1,405) rotate(-90) scale(1,1.07)">Amplitude</text>
<text x="956.60" y="773.20" font-size="24.0" textLength="45.06" lengthAdjust="spacingAndGlyphs">x 10</text>
<text x="1001.94" y="757.40" font-size="19.0" textLength="16.25" lengthAdjust="spacingAndGlyphs">-9</text>
</svg>
</body></html>
